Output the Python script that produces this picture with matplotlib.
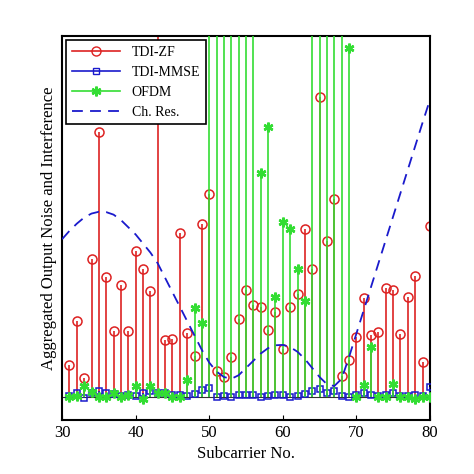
import numpy as np
import matplotlib
matplotlib.use("Agg")
import matplotlib.pyplot as plt
from matplotlib.lines import Line2D

plt.rcParams['font.family'] = ['Liberation Serif', 'DejaVu Serif']

sub = list(range(31, 81))
zf = [0.87, 2.11, 0.52, 3.81, 7.35, 3.33, 1.83, 3.10, 1.83, 4.04,
      3.55, 2.94, 12.0, 1.58, 1.61, 4.53, 1.78, 1.12, 4.79, 5.62,
      0.73, 0.56, 1.10, 2.15, 2.96, 2.55, 2.50, 1.84, 2.35, 1.33,
      2.50, 2.84, 4.66, 3.54, 8.30, 4.33, 5.49, 0.59, 1.02, 1.65,
      2.75, 1.72, 1.79, 3.03, 2.96, 1.74, 2.76, 3.36, 0.98, 4.74]
mmse = [0.02, 0.10, -0.03, 0.10, 0.15, 0.12, 0.08, 0.03, 0.05, 0.02,
        0.10, 0.15, 0.12, 0.10, 0.05, 0.05, 0.03, 0.08, 0.20, 0.25,
        0.0, 0.02, 0.0, 0.05, 0.05, 0.06, 0.0, 0.03, 0.05, 0.04,
        0.0, 0.02, 0.08, 0.15, 0.22, 0.12, 0.15, 0.02, 0.0, 0.05,
        0.10, 0.05, 0.03, 0.05, 0.12, 0.03, 0.02, 0.06, 0.03, 0.27]
ofdm = [0.0, 0.02, 0.29, 0.14, 0.0, 0.0, 0.10, 0.0, 0.05, 0.30,
        -0.05, 0.29, 0.12, 0.10, 0.0, 0.0, 0.48, 2.45, 2.06, 12.0,
        12.0, 12.0, 12.0, 12.0, 12.0, 12.0, 6.20, 7.47, 2.78, 4.84,
        4.64, 3.55, 2.67, 12.0, 12.0, 12.0, 12.0, 12.0, 9.67, 0.0,
        0.33, 1.38, 0.0, 0.0, 0.36, 0.0, 0.0, -0.05, 0.0, 0.0]
ch_x = list(range(30, 81))
ch = [4.37, 4.6, 4.8, 4.97, 5.08, 5.13, 5.12, 5.05, 4.9, 4.7, 4.5, 4.25,
      4.0, 3.7, 3.3, 2.9, 2.5, 2.1, 1.7, 1.3, 0.95, 0.7, 0.55, 0.5, 0.6,
      0.8, 1.0, 1.2, 1.35, 1.43, 1.44, 1.38, 1.25, 1.05, 0.8, 0.55, 0.35,
      0.3, 0.5, 1.1, 1.75, 2.4, 3.05, 3.7, 4.35, 5.0, 5.65, 6.3, 6.95,
      7.6, 8.23]

red = '#dd2222'
blue = '#1a1acc'
green = '#33dd33'
ast = (6, 2, 0)

fig = plt.figure(figsize=(4.74, 4.74), dpi=100)
ax = fig.add_axes([0.131, 0.114, 0.776, 0.81])

def stem(y, color, marker, ms, z, mew=1.1):
    ax.vlines(sub, 0, y, color=color, lw=1.2, zorder=z)
    ax.plot(sub, y, ls='none', marker=marker, ms=ms, mfc='none', mec=color, mew=mew, zorder=z + 0.5)

stem(zf, red, 'o', 6.5, 2)
stem(mmse, blue, 's', 5, 3)
stem(ofdm, green, ast, 7, 4, mew=1.8)
ax.axhline(0, color='#333333', lw=0.8, zorder=1)
ax.plot(ch_x, ch, ls=(0, (6, 4)), color=blue, lw=1.3, zorder=5)

ax.set_xlim(30, 80)
ax.set_ylim(-0.64, 10)
ax.set_xticks([30, 40, 50, 60, 70, 80])
ax.set_yticks([])
ax.tick_params(labelsize=12, direction='in')
ax.set_xlabel('Subcarrier No.', fontsize=12)
ax.set_ylabel('Aggregated Output Noise and Interference', fontsize=12)
for s in ax.spines.values():
    s.set_linewidth(1.5)

handles = [
    Line2D([], [], color=red, marker='o', mfc='none', ms=6.5, lw=1.2),
    Line2D([], [], color=blue, marker='s', mfc='none', ms=5, lw=1.2),
    Line2D([], [], color=green, marker=ast, ms=7, mew=1.8, lw=1.2),
    Line2D([], [], color=blue, ls=(0, (6, 4)), lw=1.3),
]
leg = ax.legend(handles, ['TDI-ZF', 'TDI-MMSE', 'OFDM', 'Ch. Res.'], loc='upper left',
                fontsize=10, fancybox=False, edgecolor='black', framealpha=1,
                handlelength=3.5, borderaxespad=0.3)
leg.get_frame().set_linewidth(1.2)
leg.set_zorder(10)

fig.savefig('out.png', dpi=100)
